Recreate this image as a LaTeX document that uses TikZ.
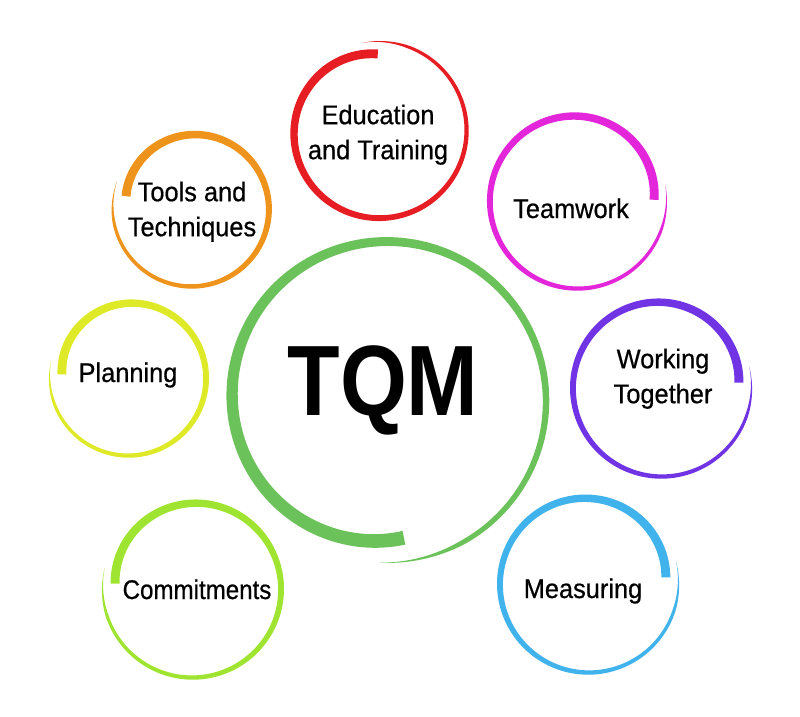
\documentclass[tikz,border=0pt]{standalone}
\usepackage{fontspec}
\setmainfont{Liberation Sans}
\newfontfamily\epais{Liberation Sans}[FakeBold=0.6]
\usepackage{tikz}
\usepackage{xcolor}

\definecolor{tqmred}{RGB}{230,30,35}
\definecolor{tqmorange}{RGB}{238,148,28}
\definecolor{tqmgreen}{RGB}{108,194,90}
\definecolor{tqmmagenta}{RGB}{228,38,218}
\definecolor{tqmpurple}{RGB}{112,52,228}
\definecolor{tqmyellow}{RGB}{222,234,40}
\definecolor{tqmlime}{RGB}{160,228,50}
\definecolor{tqmblue}{RGB}{64,178,236}

% anneau au pinceau : centre, rayon, depart, sens, epaisseurs, couleur, retrait
\newcommand{\anneau}[9]{%
  \fill[#8] plot[variable=\t,domain=0:1,samples=200]
    ({#1+(#3+0.4*#9*\t-#9*(1-\t)^4+0.5*(#7+(#6-#7)*(1-\t))*min(1,12*(1-\t)))*cos(#4+#5*370*\t)},
     {#2+(#3+0.4*#9*\t-#9*(1-\t)^4+0.5*(#7+(#6-#7)*(1-\t))*min(1,12*(1-\t)))*sin(#4+#5*370*\t)})
    -- plot[variable=\t,domain=1:0,samples=200]
    ({#1+(#3+0.4*#9*\t-#9*(1-\t)^4-0.5*(#7+(#6-#7)*(1-\t))*min(1,12*(1-\t)))*cos(#4+#5*370*\t)},
     {#2+(#3+0.4*#9*\t-#9*(1-\t)^4-0.5*(#7+(#6-#7)*(1-\t))*min(1,12*(1-\t)))*sin(#4+#5*370*\t)})
    -- cycle;}

\tikzset{texte/.style={font=\epais\fontsize{27}{35}\selectfont, xscale=0.94, inner sep=0pt, align=center}}

\begin{document}
\begin{tikzpicture}[x=1pt,y=-1pt]
\useasboundingbox (0,0) rectangle (800,717);
\fill[white] (0,0) rectangle (800,717);
% cercle central
\anneau{385}{400}{156}{82}{1}{14}{4}{tqmgreen}{17}
\node[inner sep=0pt, anchor=base, xscale=0.86, font=\fontsize{100}{100}\selectfont\bfseries] (tqm) at (383,415) {TQM};
% anneaux autour
\anneau{378}{131}{86}{-90}{-1}{9}{2.5}{tqmred}{9}
\anneau{192}{208}{76}{190}{1}{9}{2.5}{tqmorange}{9}
\anneau{577}{200}{86}{0}{-1}{9}{2.5}{tqmmagenta}{9}
\anneau{661}{387}{87}{-3}{-1}{9}{2.5}{tqmpurple}{9}
\anneau{129}{377}{76}{182}{1}{9}{2.5}{tqmyellow}{9}
\anneau{193}{588}{87}{183}{1}{9}{2.5}{tqmlime}{9}
\anneau{588}{583}{87}{-4}{-1}{9}{2.5}{tqmblue}{9}
% textes
\node[texte] (edu) at (378,134.7) {Education\\and Training};
\node[texte] (tools) at (192,211.7) {Tools and\\Techniques};
\node[texte, anchor=base] (team) at (571,218) {Teamwork};
\node[texte] (work) at (663,378.7) {Working\\Together};
\node[texte, anchor=base] (plan) at (128,382) {Planning};
\node[texte, anchor=base, xscale=0.95] (commit) at (197,599) {Commitments};
\node[texte, anchor=base] (measure) at (583,598) {Measuring};
\end{tikzpicture}
\end{document}
